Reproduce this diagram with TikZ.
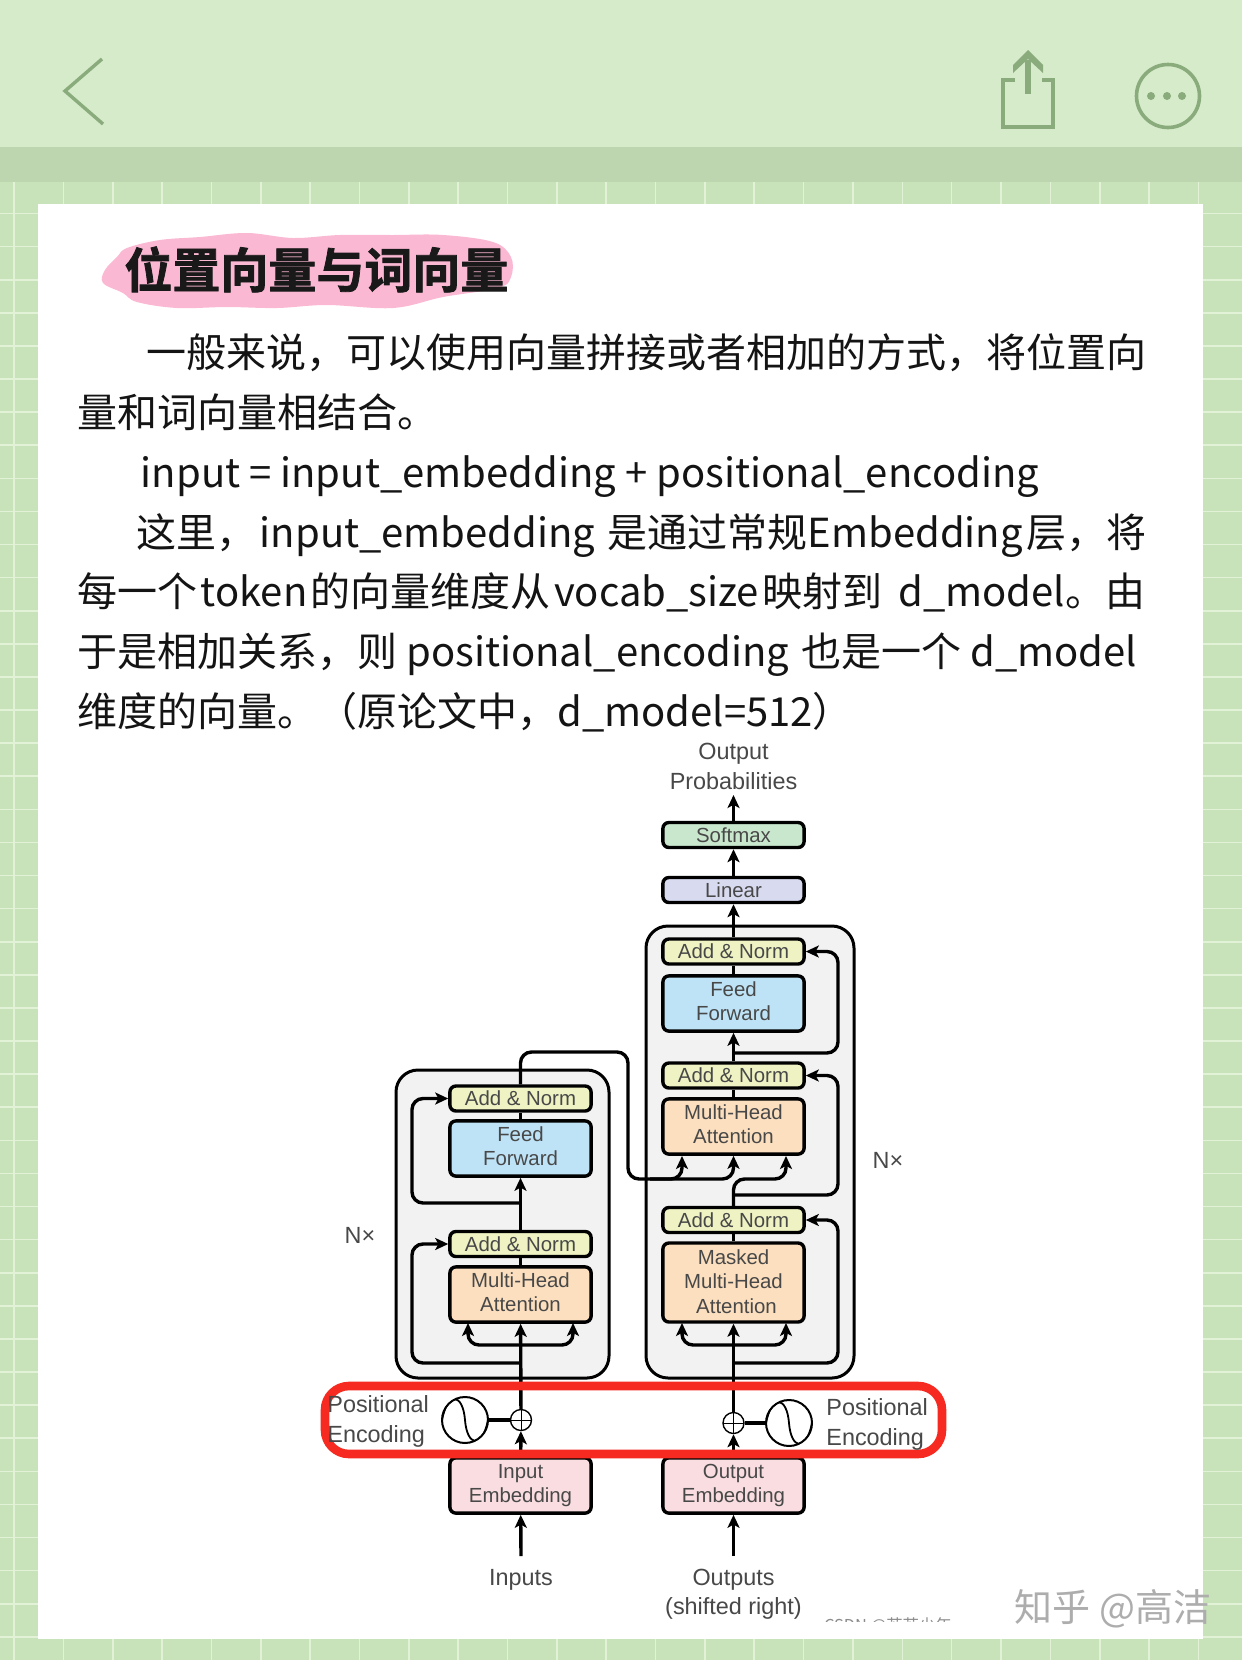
\documentclass[tikz,border=0pt]{standalone}
\usepackage{fontspec}
\usetikzlibrary{arrows.meta}
\setmainfont{Noto Sans CJK SC}
\newfontfamily\diagfont{Liberation Sans}
\newfontfamily\titlefont[FakeBold=1.6]{Noto Sans CJK SC Bold}
\newcommand{\kg}{\hspace{1.7pt}}
\newcommand{\lowstrut}{\rule[-2.4pt]{0pt}{2.4pt}}
\definecolor{pagegreen}{HTML}{C8E3B9}
\definecolor{gridgreen}{HTML}{E2F2D7}
\definecolor{headgreen}{HTML}{D6EBCA}
\definecolor{bandgreen}{HTML}{BDD6B0}
\definecolor{icongreen}{HTML}{8AAB7C}
\definecolor{blobpink}{HTML}{FBB8D3}
\definecolor{labgray}{HTML}{484848}
\definecolor{addfill}{HTML}{EFF2C2}
\definecolor{fffill}{HTML}{BEE3F6}
\definecolor{attfill}{HTML}{FBDFBF}
\definecolor{embfill}{HTML}{F9DDE0}
\definecolor{softfill}{HTML}{C9E7CD}
\definecolor{linfill}{HTML}{D8DAEF}
\definecolor{markred}{HTML}{F62A20}
\tikzset{
  >={Stealth[length=6.5pt,width=6pt,inset=1.6pt]},
  body/.style={anchor=base west,inner sep=0pt,font=\fontsize{20}{24}\selectfont,text=black!92},
  lab/.style={inner sep=0pt,align=center,text=labgray,font=\diagfont\fontsize{11.7}{14.6}\selectfont},
  poslab/.style={lab,align=left,anchor=west,font=\diagfont\fontsize{11.7}{15}\selectfont},
  block/.style={draw=black,line width=1.7pt,rounded corners=3pt,inner sep=0pt,minimum width=70.6pt,
    align=center,text=labgray,font=\diagfont\fontsize{10.2}{12.3}\selectfont},
  addbox/.style={block,fill=addfill,minimum height=12.5pt},
  ffbox/.style={block,fill=fffill,minimum height=27.6pt},
  attbox/.style={block,fill=attfill,minimum height=27.6pt},
  embbox/.style={block,fill=embfill,minimum height=27.6pt},
  stack/.style={draw=black,line width=1.5pt,fill=black!5,rounded corners=11pt,inner sep=0pt},
  link/.style={draw=black,line width=1.7pt,rounded corners=5.5pt},
  plusdot/.style={circle,draw=black,line width=0.7pt,fill=white,minimum size=10.5pt,inner sep=0pt,
    path picture={\draw[line width=0.5pt] (path picture bounding box.north) -- (path picture bounding box.south)
      (path picture bounding box.west) -- (path picture bounding box.east);}},
  sinedot/.style={circle,draw=black,line width=1pt,fill=white,minimum size=23pt,inner sep=0pt,
    path picture={\draw[line width=0.9pt,shift={(path picture bounding box.center)}]
      (-23,0) .. controls (-17,-30) and (-2,-26) .. (0,0) .. controls (2,26) and (17,30) .. (23,0);}}
}
\begin{document}
\begin{tikzpicture}[x=0.5pt,y=-0.5pt]
\useasboundingbox (0,0) rectangle (1242,1660);
% page
\fill[pagegreen] (0,0) rectangle (1242,1660);
\foreach \k in {0,...,24} \draw[gridgreen,line width=0.8pt] ({14+49.35*\k},182) -- ({14+49.35*\k},1660);
\foreach \k in {-8,...,35} \draw[gridgreen,line width=0.8pt] (0,{1372-33.1*\k}) -- (1242,{1372-33.1*\k});
\fill[headgreen] (0,0) rectangle (1242,147);
\fill[bandgreen] (0,147) rectangle (1242,182);
\fill[white] (38,204) rectangle (1203,1639);
% header icons
\draw[icongreen,line width=1.7pt] (102,59) -- (65,91) -- (103,124);
\draw[icongreen,line width=1.8pt] (1015,80) -- (1003,80) -- (1003,127) -- (1053,127) -- (1053,80) -- (1042,80);
\draw[icongreen,line width=3pt] (1028,60) -- (1028,94);
\fill[icongreen] (1028,50) -- (1043,65) -- (1043,73) -- (1028,59) -- (1013,73) -- (1013,65) -- cycle;
\draw[icongreen,line width=1.8pt] (1168,96) circle (31.5);
\foreach \x in {1151,1167,1182} \fill[icongreen] (\x,96) circle (4);
% title
\fill[blobpink] plot[smooth cycle,tension=0.6] coordinates {(117,257) (127,248) (160,240) (200,237) (247,233)
  (293,238) (340,235) (393,235) (443,235) (493,242) (511,257) (511,277) (498,288) (443,297) (393,308)
  (327,305) (277,308) (227,307) (177,308) (137,302) (123,293) (103,283) (105,270)};
\node[anchor=base west,inner sep=0pt,text=black!90] (title) at (124,288) {\titlefont\fontsize{24}{28}\selectfont 位置向量与词向量};
% text
\node[body] (line1) at (146,367) {一般来说，可以使用向量拼接或者相加的方式，将位置向};
\node[body] (line2) at (77,427) {量和词向量相结合。};
\node[body] (line3) at (140.5,487) {input = input\_embedding + positional\_encoding};
\node[body] (line4) at (136,547) {这里，\kg input\_embedding \kg 是通过常规Embedding\kg 层，将};
\node[body] (line5) at (77,606.5) {每一个\kg token\kg 的向量维度从\kg vocab\_size\kg 映射到 \kg\kg d\_model。由};
\node[body] (line6) at (77,666.5) {于是相加关系，则 positional\_encoding \kg 也是一个 d\_model};
\node[body] (line7) at (77,726.5) {维度的向量。（原论文中，d\_model=512）};
% stacks
\node[stack,minimum width=106.5pt,minimum height=154pt] (encstack) at (502.5,1224) {};
\node[stack,minimum width=104pt,minimum height=226pt] (decstack) at (750,1152) {};
% encoder blocks
\node[embbox] (inemb) at (520.5,1485.5) {Input\\Embedding};
\node[attbox] (encatt) at (520.5,1294.5) {Multi-Head\\Attention\lowstrut};
\node[addbox] (encadd1) at (520.5,1244) {Add \& Norm};
\node[ffbox] (encff) at (520.5,1148.5) {Feed\\Forward\lowstrut};
\node[addbox] (encadd2) at (520.5,1098.5) {Add \& Norm};
% decoder blocks
\node[embbox] (outemb) at (733.5,1485.5) {Output\\Embedding};
\node[attbox,minimum height=39.5pt] (decmask) at (733.5,1282.5) {Masked\\Multi-Head\\\hspace*{3pt}Attention\rule[-1pt]{0pt}{1pt}};
\node[addbox] (decadd1) at (733.5,1220) {Add \& Norm};
\node[attbox] (decatt) at (733.5,1126.5) {Multi-Head\\Attention\lowstrut};
\node[addbox] (decadd2) at (733.5,1075.5) {Add \& Norm};
\node[ffbox] (decff) at (733.5,1003.5) {Feed\\Forward\lowstrut};
\node[addbox] (decadd3) at (733.5,951.5) {Add \& Norm};
\node[block,fill=linfill,minimum height=12.5pt] (linear) at (733.5,890) {Linear};
\node[block,fill=softfill,minimum height=12.5pt] (softmax) at (733.5,835) {Softmax};
% labels
\node[lab] (outprob) at (733.5,766.5) {Output\\Probabilities};
\node[lab] (enclab) at (360,1235.5) {N×};
\node[lab] (declab) at (888,1160) {N×};
\node[lab] (inlab) at (521,1580) {Inputs};
\node[lab] (outlab) at (733.5,1594.5) {Outputs\\(shifted right)};
% position dots
\node[plusdot] (plusl) at (521,1420) {};
\node[plusdot] (plusr) at (733.5,1423) {};
\node[sinedot] (sinel) at (465,1420) {};
\node[sinedot] (siner) at (789,1423) {};
% free ends
\coordinate (inarr) at (521,1556);
\coordinate (outarr) at (733.5,1556);
\coordinate (probarr) at (733.5,795);
\coordinate (ebr1) at (520.5,1345);
\coordinate (ealeft) at (468,1323);
\coordinate (earight) at (573,1323);
\coordinate (ere1) at (412,1363);
\coordinate (ere2) at (412,1203);
\coordinate (dbr1) at (733.5,1345);
\coordinate (daleft) at (682,1323);
\coordinate (daright) at (786,1323);
\coordinate (dre1) at (838,1363);
\coordinate (dre2) at (838,1195);
\coordinate (dre3) at (838,1053);
\coordinate (xtop) at (628,1052);
\coordinate (xbot) at (628,1179);
\coordinate (xmid) at (650,1179);
\coordinate (dqleft) at (682,1156);
\coordinate (dqright) at (786,1156);
\coordinate (dqup) at (733.5,1179);
% connectors
\draw[link,->] (inarr) -- (inemb);
\draw[link,->] (outarr) -- (outemb);
\draw[link,->] (inemb) -- (plusl);
\draw[link,->] (outemb) -- (plusr);
\draw[link] (sinel) -- (plusl);
\draw[link] (siner) -- (plusr);
\draw[link,->] (plusl) -- (encatt);
\draw[link,->] (plusr) -- (decmask);
\draw[link,->] (ebr1) -| (ealeft);
\draw[link,->] (ebr1) -| (earight);
\draw[link,->] (dbr1) -| (daleft);
\draw[link,->] (dbr1) -| (daright);
\draw[link] (encatt) -- (encadd1);
\draw[link,->] (encadd1) -- (encff);
\draw[link] (encff) -- (encadd2);
\draw[link,->] (encatt.south |- ere1) -- (ere1) |- (encadd1.west);
\draw[link,->] (encatt.south |- ere2) -- (ere2) |- (encadd2.west);
\draw[link] (decmask) -- (decadd1);
\draw[link] (decatt) -- (decadd2);
\draw[link,->] (decadd2) -- (decff);
\draw[link] (decff) -- (decadd3);
\draw[link,->] (decadd3) -- (linear);
\draw[link,->] (linear) -- (softmax);
\draw[link,->] (softmax) -- (probarr);
\draw[link,->] (decmask.south |- dre1) -- (dre1) |- (decadd1.east);
\draw[link,->] (decmask.south |- dre2) -- (dre2) |- (decadd2.east);
\draw[link,->] (decmask.south |- dre3) -- (dre3) |- (decadd3.east);
\draw[link,->] (encadd2.north) |- (xtop) -- (xbot) -| (decatt.south);
\draw[link,->] (xmid) -| (dqleft);
\draw[link,->] (decadd1.north) -- (dqup) -| (dqright);
% red mark
\node[draw=markred,line width=4.3pt,rounded corners=12pt,inner sep=0pt,minimum width=308.5pt,minimum height=34pt] (redmark) at (633.5,1420) {};
\node[poslab] (posleft) at (327,1421) {Positional\\Encoding};
\node[poslab] (posright) at (826,1424.5) {Positional\\Encoding};
% corner marks
\begin{scope}
\clip (800,1600) rectangle (980,1621);
\node[inner sep=0pt,text=black!45,font=\fontsize{8.2}{10}\selectfont] (csdn) at (888,1626) {CSDN @苏苏少年};
\end{scope}
\node[inner sep=0pt,text=black!32,font=\fontsize{19}{22}\selectfont] (zhihu) at (1113,1609) {知乎 @高洁};
\end{tikzpicture}
\end{document}
